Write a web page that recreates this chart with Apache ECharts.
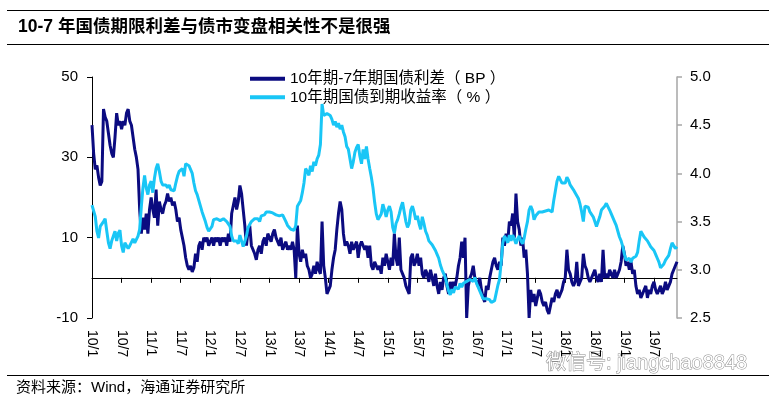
<!DOCTYPE html>
<html><head><meta charset="utf-8">
<script src="https://cdn.jsdelivr.net/npm/echarts@6/dist/echarts.min.js"></script>
<style>html,body{margin:0;padding:0;background:#fff}#c{width:769px;height:399px}</style>
</head><body><div id="c"></div>
<script>
// 10年期-7年期国债利差（BP），约每旬一个点，2010/1 - 2019/11
const spread = [
38,31,27, 28,25,23, 24,42,40, 39,36,33, 31,30,35, 41,38,39, 37,39,38, 41,42,39, 38,35,32, 30,27,17,
11,15,12, 16,11,17, 20,17,15, 22,13,19, 17,16,18, 19,21,19, 20,18,19, 17,14,15, 12,10,8, 5,3,2,
3,1.5,2.5, 6,4,8, 9,7,10, 9,10,8, 9,10,8, 10,9,10, 8,10,9, 10,8,11, 9,16,18, 20,17,19,
23,21,17, 13,8,12, 13,8,7, 6,4.5,7, 8,6,9, 10,8,11, 10,9,11, 12,10,9, 8,10,7, 8,9,7,
8,7,9, 7,0,13, 6,4,7, 5,6,3, 2,0,1, 3,1,4, 2,1,14, 3,0,-4, -4,-2,2, 5,7,12,
16,19,17, 11,8,9, 8,6,9, 7,8,9, 5,8,9, 8,7,8, 5,8,3, 2,4,3, 2,3,1, 5,3,6,
4,2,5, 3,11,5, 3,10,2, 1,0,-2, -3,-4,5, 6,3,4, 6,3,5, 1,0,2, 1,-1,2, 0,-2,1,
-2,-4,-1, -3,0,1, -2,-4,-1, -3,-1,-2, 0,3,5, 9,5,10, -10,-2,0, 1,3,0, -1,-2,0, -3,-5,-6,
-2,-3,0, 2,4,5, 3,2,4, 3,10,8, 11,9,14, 13,16,10, 21,14,12, 8,10,5, 7,1,-10, -3,-6,-4,
-7,-5,-3, -4,-6,-7, -6,-8,-9, -7,-5,-6, -4,-3,-5, -4,-3,-1, 0,7,2, 1,-1,-2, -1,4,-2, -1,0,6,
3,2,0, -1,0,1, 2,0,-1, 1,-1,7, 0,1,0, 2,1,0, 2,0,1, 2,4,8, 6,3,4, 2,4,1,
2,-2,-4, -3,-5,-4, -4,-2,-5, -3,-4,-2, -1,-3,-4, -3,-2,-4, -3,-1,-3, -2,-1,1, 2,3,4
];
// 10年期国债到期收益率（%）
const yield10 = [
3.67,3.68,3.55, 3.40,3.33,3.45, 3.43,3.50,3.53, 3.40,3.28,3.22, 3.30,3.35,3.40, 3.30,3.38,3.41, 3.25,3.18,3.28, 3.30,3.22,3.25, 3.27,3.32,3.28, 3.28,3.35,3.42,
3.65,3.85,3.98, 3.85,3.78,3.88, 3.92,3.80,3.95, 4.05,4.10,4.02, 3.92,3.88,3.90, 3.88,3.85,3.88, 3.83,3.85,3.82, 3.90,3.97,4.02, 4.00,4.05,3.97, 4.10,4.12,4.08,
4.10,4.00,3.90, 3.82,3.78,3.72, 3.66,3.60,3.55, 3.50,3.44,3.40, 3.40,3.45,3.52, 3.50,3.53,3.52, 3.51,3.50,3.53, 3.52,3.50,3.48, 3.45,3.35,3.30, 3.28,3.30,3.27,
3.36,3.30,3.24, 3.22,3.35,3.44, 3.46,3.50,3.52, 3.53,3.55,3.53, 3.50,3.56,3.58, 3.57,3.60,3.58, 3.60,3.61,3.59, 3.60,3.57,3.59, 3.56,3.58,3.57, 3.55,3.50,3.46,
3.44,3.42,3.43, 3.41,3.46,3.66, 3.68,3.72,3.80, 3.90,4.05,4.02, 3.98,4.08,4.02, 4.12,4.08,4.15, 4.19,4.30,4.72, 4.60,4.58,4.62, 4.63,4.60,4.56, 4.50,4.54,4.48,
4.52,4.46,4.50, 4.43,4.38,4.28, 4.25,4.15,4.05, 4.12,4.22,4.27, 4.30,4.18,4.10, 4.25,4.15,4.28, 4.15,4.05,3.96, 3.85,3.70,3.58, 3.52,3.50,3.58, 3.68,3.62,3.55,
3.62,3.66,3.60, 3.44,3.38,3.48, 3.52,3.58,3.65, 3.70,3.68,3.50, 3.44,3.48,3.62, 3.66,3.60,3.52, 3.56,3.48,3.42, 3.55,3.48,3.40, 3.36,3.30,3.28, 3.26,3.24,3.20,
3.16,3.12,3.05, 3.00,2.96,2.92, 2.85,2.78,2.74, 2.80,2.76,2.82, 2.84,2.80,2.86, 2.82,2.86,2.84, 2.88,2.86,2.90, 2.92,2.88,2.92, 2.86,2.82,2.80, 2.74,2.70,2.72,
2.70,2.72,2.69, 2.66,2.64,2.68, 2.76,2.84,2.90, 3.08,3.28,3.35, 3.32,3.28,3.36, 3.30,3.36,3.32, 3.27,3.32,3.35, 3.30,3.27,3.33, 3.42,3.50,3.62, 3.66,3.62,3.52,
3.56,3.58,3.60, 3.58,3.60,3.62, 3.61,3.60,3.62, 3.63,3.60,3.72, 3.82,3.92,3.97, 3.95,3.90,3.88, 3.90,3.96,3.93, 3.88,3.86,3.83, 3.80,3.78,3.74, 3.68,3.60,3.50,
3.66,3.68,3.65, 3.60,3.58,3.55, 3.50,3.45,3.43, 3.55,3.62,3.60, 3.66,3.69,3.67, 3.62,3.58,3.56, 3.50,3.46,3.40, 3.34,3.30,3.24, 3.16,3.10,3.09, 3.12,3.08,3.12,
3.10,3.14,3.18, 3.30,3.40,3.42, 3.34,3.32,3.30, 3.27,3.24,3.22, 3.20,3.16,3.12, 3.08,3.02,3.04, 3.06,3.10,3.12, 3.15,3.22,3.28, 3.26,3.22,3.24
];
const xTickLabels = ['10/1','10/7','11/1','11/7','12/1','12/7','13/1','13/7','14/1','14/7','15/1','15/7','16/1','16/7','17/1','17/7','18/1','18/7','19/1','19/7'];
const seriesNames = ['10年期-7年期国债利差（ BP ）','10年期国债到期收益率（ % ）'];

const categories = [];
for (let i = 0; i < spread.length; i++) {
  const m = Math.floor(i / 3);
  const y = 2010 + Math.floor(m / 12);
  const mo = m % 12 + 1;
  categories.push(y + '-' + String(mo).padStart(2, '0') + '-' + [5, 15, 25][i % 3]);
}

const darkC = '#0b0b80', lightC = '#19c6f6';
const numFont = '"Liberation Sans", Arial, sans-serif';
const cjkFont = '"Liberation Sans", "Noto Sans CJK SC", sans-serif';
const chart = echarts.init(document.getElementById('c'), null, {renderer: 'canvas'});
chart.setOption({
  animation: false,
  backgroundColor: '#fff',
  grid: {left: 92, right: 92, top: 77, bottom: 81, containLabel: false},
  legend: {
    orient: 'vertical', left: 245, top: 66, itemGap: 3,
    itemWidth: 35, itemHeight: 4, icon: 'rect',
    textStyle: {fontSize: 15.5, color: '#000', fontFamily: cjkFont},
    data: seriesNames
  },
  xAxis: [
    {type: 'category', data: categories, boundaryGap: false, position: 'bottom',
     axisLine: {show: false, onZero: false}, axisTick: {show: false}, splitLine: {show: false},
     axisLabel: {interval: 17, rotate: -90, margin: 12, fontSize: 14, color: '#000', fontFamily: numFont,
       formatter: (v, i) => xTickLabels[i / 18] || ''}},
    {type: 'category', data: categories, boundaryGap: false, position: 'bottom',
     axisLine: {show: true, onZero: true, onZeroAxisIndex: 0, lineStyle: {color: '#000', width: 1}},
     axisTick: {show: true, interval: 17, length: 5, lineStyle: {color: '#000'}},
     axisLabel: {show: false}, splitLine: {show: false}}
  ],
  yAxis: [
    {type: 'value', min: -10, max: 50, interval: 20, position: 'left',
     axisLine: {show: true, onZero: false, lineStyle: {color: '#000', width: 1}},
     axisTick: {show: true, length: 5, lineStyle: {color: '#000'}},
     splitLine: {show: false},
     axisLabel: {margin: 14, fontSize: 15, color: '#000', fontFamily: numFont}},
    {type: 'value', min: 2.5, max: 5, interval: 0.5, position: 'right',
     axisLine: {show: true, onZero: false, lineStyle: {color: '#a6a6a6', width: 1.5}},
     axisTick: {show: true, length: 5, lineStyle: {color: '#a6a6a6', width: 1.5}},
     splitLine: {show: false},
     axisLabel: {margin: 13, fontSize: 15, color: '#000', fontFamily: numFont, formatter: v => v.toFixed(1)}}
  ],
  series: [
    {name: seriesNames[0], type: 'line', xAxisIndex: 0, yAxisIndex: 0, data: spread, symbol: 'none',
     lineStyle: {width: 3, color: darkC}, itemStyle: {color: darkC}, z: 2},
    {name: seriesNames[1], type: 'line', xAxisIndex: 0, yAxisIndex: 1, data: yield10, symbol: 'none',
     lineStyle: {width: 3, color: lightC}, itemStyle: {color: lightC}, z: 3}
  ],
  graphic: [
    {type: 'line', shape: {x1: 7, y1: 10.5, x2: 769, y2: 10.5}, style: {stroke: '#000', lineWidth: 1}},
    {type: 'text', style: {x: 18, y: 27, text: '10-7 年国债期限利差与债市变盘相关性不是很强',
      font: 'bold 17.5px ' + cjkFont, fill: '#000', verticalAlign: 'middle'}},
    {type: 'line', shape: {x1: 7, y1: 44.5, x2: 769, y2: 44.5}, style: {stroke: '#000', lineWidth: 1}},
    {type: 'line', shape: {x1: 7, y1: 375.5, x2: 769, y2: 375.5}, style: {stroke: '#000', lineWidth: 1}},
    {type: 'text', style: {x: 16, y: 388, text: '资料来源：Wind，海通证券研究所',
      font: '15px ' + cjkFont, fill: '#000', verticalAlign: 'middle'}},
    {type: 'text', style: {x: 546, y: 363, text: '微信号: jiangchao8848',
      font: '20px ' + cjkFont, fill: '#ffffff', stroke: '#8c8c8c', lineWidth: 1, verticalAlign: 'middle'}}
  ]
});
</script></body></html>
